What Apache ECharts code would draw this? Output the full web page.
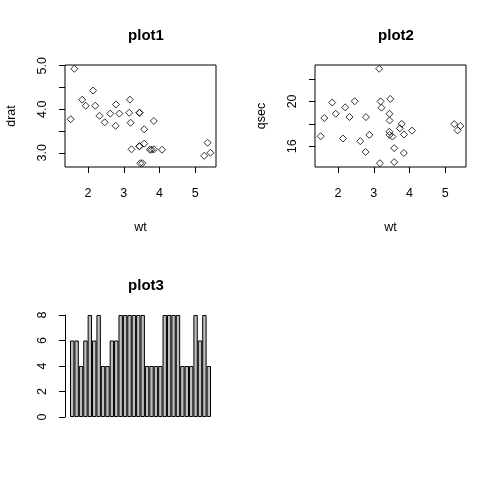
<!DOCTYPE html>
<html>
<head>
<meta charset="utf-8">
<script src="https://cdn.jsdelivr.net/npm/echarts@6/dist/echarts.min.js"></script>
<style>html,body{margin:0;padding:0;background:#fff;}#c{width:500px;height:500px;}</style>
</head>
<body>
<div id="c"></div>
<script>
const wt = [2.620, 2.875, 2.320, 3.215, 3.440, 3.460, 3.570, 3.190, 3.150, 3.440, 3.440, 4.070, 3.730, 3.780, 5.250, 5.424, 5.345, 2.200, 1.615, 1.835, 2.465, 3.520, 3.435, 3.840, 3.845, 1.935, 2.140, 1.513, 3.170, 2.770, 3.570, 2.780];
const drat = [3.90, 3.90, 3.85, 3.08, 3.15, 2.76, 3.21, 3.69, 3.92, 3.92, 3.92, 3.07, 3.07, 3.07, 2.93, 3.00, 3.23, 4.08, 4.93, 4.22, 3.70, 2.76, 3.15, 3.73, 3.08, 4.08, 4.43, 3.77, 4.22, 3.62, 3.54, 4.11];
const qsec = [16.46, 17.02, 18.61, 19.44, 17.02, 20.22, 15.84, 20.00, 22.90, 18.30, 18.90, 17.40, 17.60, 18.00, 17.98, 17.82, 17.42, 19.47, 18.52, 19.90, 20.01, 16.87, 17.30, 15.41, 17.05, 18.90, 16.70, 16.90, 14.50, 15.50, 14.60, 18.60];
const cyl = [6, 6, 4, 6, 8, 6, 8, 4, 4, 6, 6, 8, 8, 8, 8, 8, 8, 4, 4, 4, 4, 8, 8, 8, 8, 4, 4, 4, 8, 6, 8, 4];
const wtTicks = [2, 3, 4, 5];
const dratTicks = [3.0, 3.5, 4.0, 4.5, 5.0];
const dratLabels = [3.0, 4.0, 5.0];
const qsecTicks = [16, 18, 20, 22];
const qsecLabels = [16, 20];
const titles = ['plot1', 'plot2', 'plot3'];

const FONT = 'Liberation Sans, Arial, sans-serif';
const chart = echarts.init(document.getElementById('c'), null, {renderer: 'canvas'});

function xVal(gi, ticks) {
  return {
    type: 'value', gridIndex: gi, min: 1.354, max: 5.58,
    name: 'wt', nameLocation: 'middle', nameGap: 54,
    nameTextStyle: {color: '#000', fontSize: 12.5, fontFamily: FONT},
    axisLine: {show: false},
    axisTick: {show: true, inside: false, length: 6, lineStyle: {color: '#000'}, customValues: ticks},
    axisLabel: {color: '#000', fontSize: 12.5, fontFamily: FONT, margin: 20, customValues: ticks},
    splitLine: {show: false}
  };
}
function yVal(gi, min, max, ticks, labels, name, fmt) {
  return {
    type: 'value', gridIndex: gi, min: min, max: max,
    name: name, nameLocation: 'middle', nameGap: 47, nameRotate: 90,
    nameTextStyle: {color: '#000', fontSize: 12.5, fontFamily: FONT},
    axisLine: {show: false},
    axisTick: {show: true, inside: false, length: 6, lineStyle: {color: '#000'}, customValues: ticks},
    axisLabel: {color: '#000', fontSize: 12.5, fontFamily: FONT, margin: 16, rotate: 90,
      customValues: labels, formatter: fmt},
    splitLine: {show: false}
  };
}
const ptStyle = {color: 'rgba(0,0,0,0)', borderColor: '#000', borderWidth: 1};
const titleStyle = {fontSize: 15, fontWeight: 'bold', color: '#000', fontFamily: FONT};

const option = {
  animation: false,
  backgroundColor: '#fff',
  title: [
    {text: titles[0], left: 141, top: 23, textAlign: 'center', textStyle: titleStyle},
    {text: titles[1], left: 391, top: 23, textAlign: 'center', textStyle: titleStyle},
    {text: titles[2], left: 141, top: 273, textAlign: 'center', textStyle: titleStyle}
  ],
  grid: [
    {left: 65, top: 65, width: 151, height: 102, show: true, borderColor: '#000', borderWidth: 1, backgroundColor: 'rgba(0,0,0,0)'},
    {left: 315, top: 65, width: 151, height: 102, show: true, borderColor: '#000', borderWidth: 1, backgroundColor: 'rgba(0,0,0,0)'},
    {left: 70, top: 315, width: 141, height: 102}
  ],
  xAxis: [
    xVal(0, wtTicks),
    xVal(1, wtTicks),
    {type: 'category', gridIndex: 2, data: cyl.map((_, i) => String(i + 1)), show: false, boundaryGap: true}
  ],
  yAxis: [
    yVal(0, 2.673, 5.017, dratTicks, dratLabels, 'drat', v => Number(v).toFixed(1)),
    yVal(1, 14.164, 23.236, qsecTicks, qsecLabels, 'qsec', v => String(v)),
    {type: 'value', gridIndex: 2, min: 0, max: 8, interval: 2, offset: 5,
      axisLine: {show: true, lineStyle: {color: '#000', width: 1}},
      axisTick: {show: true, inside: false, length: 6, lineStyle: {color: '#000'}},
      axisLabel: {color: '#000', fontSize: 12.5, fontFamily: FONT, margin: 16, rotate: 90},
      splitLine: {show: false}}
  ],
  series: [
    {type: 'scatter', xAxisIndex: 0, yAxisIndex: 0, symbol: 'diamond', symbolSize: 7,
      itemStyle: ptStyle, data: wt.map((w, i) => [w, drat[i]])},
    {type: 'scatter', xAxisIndex: 1, yAxisIndex: 1, symbol: 'diamond', symbolSize: 7,
      itemStyle: ptStyle, data: wt.map((w, i) => [w, qsec[i]])},
    {type: 'bar', xAxisIndex: 2, yAxisIndex: 2, data: cyl, barCategoryGap: '0%',
      itemStyle: {color: '#BEBEBE', borderColor: '#000', borderWidth: 1}}
  ]
};
chart.setOption(option);
</script>
</body>
</html>
